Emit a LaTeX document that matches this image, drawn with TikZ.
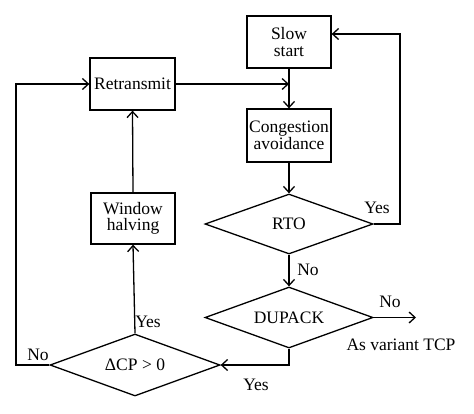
\documentclass[tikz,border=0pt]{standalone}
\usepackage{fontspec}
\setmainfont{Liberation Serif}
\usetikzlibrary{shapes.geometric,arrows.meta}
\begin{document}
\begin{tikzpicture}[x=1pt,y=-1pt,
  every node/.style={font=\fontsize{17.5}{16.5}\selectfont},
  box/.style={draw,line width=1.3pt,rectangle,align=center,inner sep=0pt},
  dia/.style={draw,line width=1.3pt,diamond,inner sep=0pt},
  conn/.style={line width=1.3pt,-{Straight Barb[length=6pt,width=11pt]}},
  lbl/.style={inner sep=0pt}]
\useasboundingbox (0,0) rectangle (474,413);
\node[box,minimum width=84pt,minimum height=52pt] (ss) at (289,42) {Slow\\start};
\node[box,minimum width=85pt,minimum height=52pt] (rt) at (132.5,84) {Retransmit};
\node[box,minimum width=84pt,minimum height=53pt] (ca) at (289,135.5) {Congestion\\avoidance};
\node[dia,minimum width=168pt,minimum height=60pt,aspect=2.8] (rto) at (289,224) {RTO};
\node[dia,minimum width=168pt,minimum height=61pt,aspect=2.75] (dup) at (289,317.5) {DUPACK};
\node[dia,minimum width=170pt,minimum height=62pt,aspect=2.74] (dcp) at (135,365) {ΔCP > 0};
\node[box,minimum width=84pt,minimum height=51pt] (wh) at (133,218.5) {Window\\halving};
\coordinate (j) at (ss.south |- rt.east);
\coordinate (rr) at (400,224);
\coordinate (ll) at (16,84);
\coordinate (vt) at (416,317.5);
\draw[conn] (ss.south) -- (ca.north);
\draw[conn] (rt.east) -- (j);
\draw[conn] (ca.south) -- (rto.north);
\draw[conn] (rto.east) -- (rr) |- ([yshift=8pt]ss.east);
\draw[conn] (rto.south) -- (dup.north);
\draw[conn] (dup.east) -- (vt);
\draw[conn] (dup.south) |- (dcp.east);
\draw[conn] (dcp.north) -- (wh.south);
\draw[conn] (wh.north) -- (rt.south);
\draw[conn] (dcp.west) -| (ll) -- (rt.west);
\node[lbl] (l1) at (377,208) {Yes};
\node[lbl] (l2) at (308,270) {No};
\node[lbl] (l3) at (390,302) {No};
\node[lbl] (l4) at (401,345) {As variant TCP};
\node[lbl] (l5) at (148,322) {Yes};
\node[lbl] (l6) at (38,355) {No};
\node[lbl] (l7) at (256,385) {Yes};
\end{tikzpicture}
\end{document}
